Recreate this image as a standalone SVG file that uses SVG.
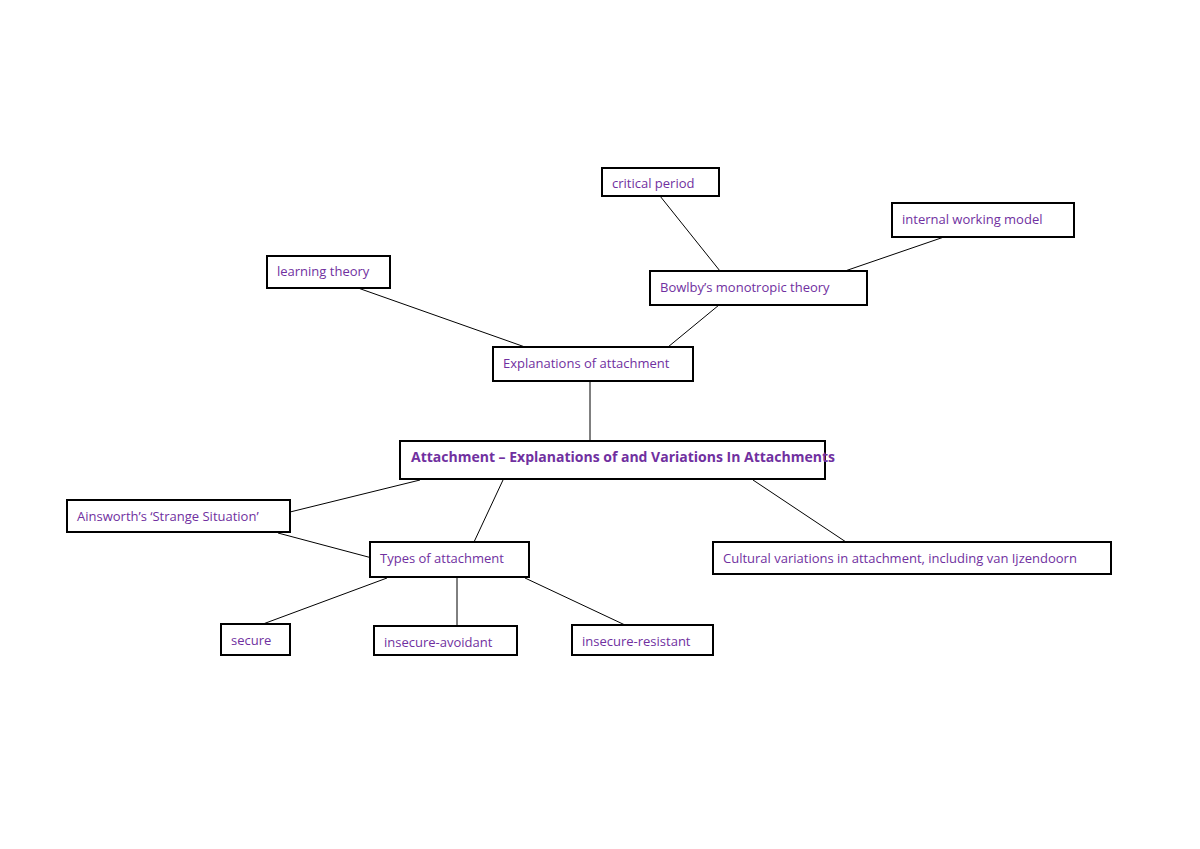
<svg xmlns="http://www.w3.org/2000/svg" width="1200" height="849" viewBox="0 0 1200 849">
<style>
rect{fill:#fff;stroke:#000;stroke-width:2}
text{font-family:"Open Sans","Liberation Sans",sans-serif;font-size:13px;fill:#7030A0}
.b{font-weight:bold;font-size:14px}
#connectors line{stroke:#000;stroke-width:1}
</style>
<rect x="0" y="0" width="1200" height="849" style="stroke:none"/>
<g id="connectors">
<line x1="660" y1="196" x2="720" y2="271"/>
<line x1="944" y1="237" x2="845" y2="271"/>
<line x1="358" y1="288" x2="525" y2="347"/>
<line x1="719" y1="305" x2="668" y2="347"/>
<line x1="590" y1="381" x2="590" y2="441"/>
<line x1="420" y1="480" x2="290" y2="512"/>
<line x1="503" y1="480" x2="474" y2="542"/>
<line x1="753" y1="480" x2="846" y2="542"/>
<line x1="278" y1="533" x2="372" y2="558"/>
<line x1="387" y1="578" x2="263" y2="624"/>
<line x1="457" y1="578" x2="457" y2="626"/>
<line x1="525" y1="578" x2="625" y2="625"/>
</g>
<g id="critical"><rect x="602" y="168" width="117" height="28"/><text x="612" y="188">critical period</text></g>
<g id="iwm"><rect x="892" y="203" width="182" height="34"/><text x="902" y="224">internal working model</text></g>
<g id="learning"><rect x="267" y="256" width="123" height="32"/><text x="277" y="276">learning theory</text></g>
<g id="bowlby"><rect x="650" y="271" width="217" height="34"/><text x="660" y="292">Bowlby’s monotropic theory</text></g>
<g id="explanations"><rect x="493" y="347" width="200" height="34"/><text x="503" y="368">Explanations of attachment</text></g>
<g id="main"><rect x="400" y="441" width="425" height="38"/><text class="b" x="411" y="462">Attachment – Explanations of and Variations In Attachments</text></g>
<g id="ainsworth"><rect x="67" y="500" width="223" height="32"/><text x="77" y="521">Ainsworth’s ‘Strange Situation’</text></g>
<g id="types"><rect x="370" y="542" width="159" height="35"/><text x="380" y="563">Types of attachment</text></g>
<g id="cultural"><rect x="713" y="542" width="398" height="32"/><text x="723" y="563">Cultural variations in attachment, including van Ijzendoorn</text></g>
<g id="secure"><rect x="221" y="624" width="69" height="31"/><text x="231" y="645">secure</text></g>
<g id="avoidant"><rect x="374" y="626" width="143" height="29"/><text x="384" y="647">insecure-avoidant</text></g>
<g id="resistant"><rect x="572" y="625" width="141" height="30"/><text x="582" y="646">insecure-resistant</text></g>
</svg>
